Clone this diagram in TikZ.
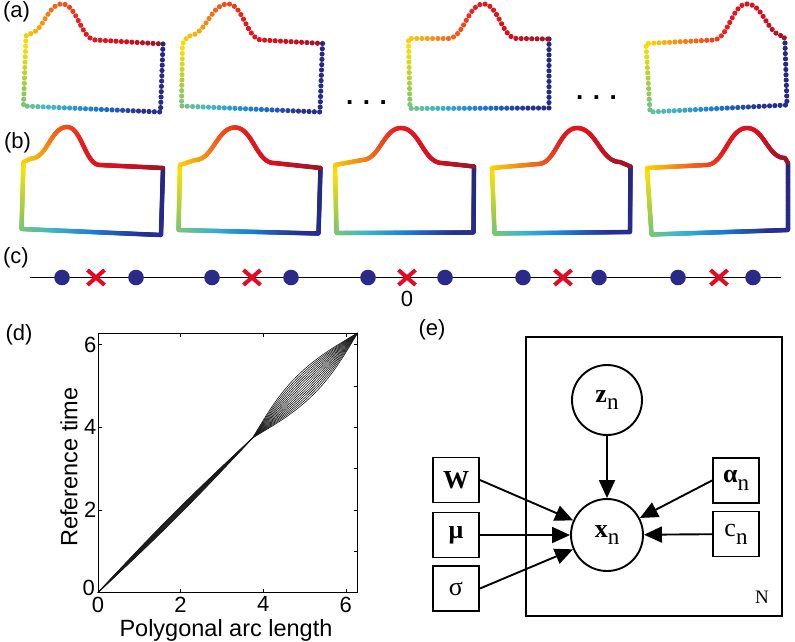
\documentclass[tikz,border=0pt]{standalone}
\usepackage{fontspec}
\setmainfont{Liberation Sans}
\newfontfamily\gmfont{Liberation Serif}
\usetikzlibrary{calc,decorations.markings,arrows.meta}

% colour stops along an outline (start = right top corner)
\definecolor{jet0}{rgb}{0.15,0.16,0.50}
\definecolor{jet1}{rgb}{0.15,0.16,0.53}
\definecolor{jet2}{rgb}{0.15,0.19,0.58}
\definecolor{jet3}{rgb}{0.10,0.48,0.85}
\definecolor{jet4}{rgb}{0.25,0.72,0.78}
\definecolor{jet5}{rgb}{0.60,0.80,0.30}
\definecolor{jet6}{rgb}{0.98,0.88,0.02}
\definecolor{jet7}{rgb}{0.95,0.45,0.10}
\definecolor{jet8}{rgb}{0.90,0.10,0.12}
\definecolor{jet9}{rgb}{0.85,0.06,0.12}
\definecolor{jet10}{rgb}{0.62,0.08,0.15}
\definecolor{navy}{rgb}{0.16,0.17,0.53}
\definecolor{xred}{rgb}{0.89,0.04,0.15}

\newcommand\jetpick{%
  \pgfmathsetmacro\jt{10*\pgfkeysvalueof{/pgf/decoration/mark info/distance from start}/\pgfdecoratedpathlength}%
  \pgfmathtruncatemacro\jk{min(\jt,9.99)}%
  \pgfmathsetmacro\jp{max(0,min(100,100*(\jt-\jk)))}%
  \pgfmathtruncatemacro\jn{\jk+1}%
  \colorlet{jetcol}{jet\jn!\jp!jet\jk}}

\newcommand\setshape[7]{%
  \coordinate (RT) at (#1); \coordinate (RB) at (#2); \coordinate (LB) at (#3);
  \coordinate (LT) at (#4); \coordinate (B1) at (#5); \coordinate (P) at (#6);
  \coordinate (B2) at (#7);}
\def\shapepath{(RT) -- (RB) -- (LB) -- (LT) -- (B1)
  .. controls ($(B1)!.45!(P|-B1)$) and ($(P)!.45!(B1|-P)$) .. (P)
  .. controls ($(P)!.45!(B2|-P)$) and ($(B2)!.45!(P|-B2)$) .. (B2) -- (RT)}

\newcommand\subn[1]{#1\raisebox{-0.3em}{\fontsize{23}{23}\selectfont n}}

\begin{document}
\begin{tikzpicture}[x=1pt, y=-1pt,
  dotline/.style={postaction={decorate}, decoration={markings,
    mark=between positions 0 and 1 step 5.3pt with {\jetpick\fill[jetcol] (0,0) circle (2.6pt);}}},
  colline/.style={postaction={decorate}, decoration={markings,
    mark=between positions 0 and 1 step 0.9pt with {\jetpick\fill[jetcol] (0,0) circle (2.3pt);}}},
  panel/.style={font=\fontsize{22}{22}\selectfont, inner sep=0pt},
  obs/.style={draw, line width=1.9pt, minimum width=46pt, minimum height=45pt,
    inner sep=0pt, font=\gmfont\fontsize{26}{26}\selectfont},
  lat/.style={draw, circle, line width=1.9pt, minimum size=70pt, inner sep=0pt,
    font=\gmfont\fontsize{26}{26}\selectfont},
  dep/.style={line width=1.9pt, -{Triangle[length=18pt,width=16pt]}}]
  \useasboundingbox (0,0) rectangle (795,641);

  % (a) sampled outlines
  \setshape{163,44}{160.5,112}{23.5,106}{26,36}{28,34}{62,4}{96,40}
  \path[dotline] \shapepath;
  \setshape{322.5,43.5}{320,112}{181.5,106}{182.5,44}{188,36}{228,4}{262,40}
  \path[dotline] \shapepath;
  \setshape{549,39}{549,108}{410,108.5}{408.5,38.5}{448,38.5}{483.5,4}{517,38.5}
  \path[dotline] \shapepath;
  \setshape{785,43}{787,105}{650,112}{646,43.5}{713,40}{747,4}{784,36}
  \path[dotline] \shapepath;
  \node[inner sep=0pt, font=\bfseries\fontsize{26}{26}\selectfont] at (366.5,102.7) {. . .};
  \node[inner sep=0pt, font=\bfseries\fontsize{26}{26}\selectfont] at (596.5,97.7) {. . .};

  % (b) continuous outlines
  \setshape{163,168}{161,235}{21.5,229}{23.5,162}{31,158.5}{67,127}{100,165}
  \path[colline] \shapepath;
  \setshape{320.5,168}{318.5,233.5}{178.5,230}{180,165}{195,160}{235,127.5}{274,163}
  \path[colline] \shapepath;
  \setshape{474,166.5}{473.5,232.5}{336.5,233}{335,165}{362,160}{401,128}{442,163}
  \path[colline] \shapepath;
  \setshape{630.5,166.5}{630,232}{494.5,233.5}{492,168}{538,164}{577,128}{620,162}
  \path[colline] \shapepath;
  \setshape{788,163}{788,230}{651.5,234.5}{647,168}{706,165}{747,128}{785,158}
  \path[colline] \shapepath;

  % (c) axis with points
  \draw[line width=1.2pt] (30,277.5) -- (781,277.5);
  \foreach \d in {62,136,212,291,368,445,523,599,678,753}
    \fill[navy] (\d,277.5) circle (7.8pt);
  \foreach \c in {96,252,407,563,719}
    \draw[xred, line width=4pt] (\c-8.5,270) -- (\c+8.5,285) (\c-8.5,285) -- (\c+8.5,270);
  \node[panel] at (407,299) {0};

  % (d) warping curves
  \begin{scope}[shift={(98,592.5)}, x=41.3pt, y=41.3pt,
    declare function={lens(\t,\a)=\a*((\t<3.75)*0.2*sin(180*\t/3.75)+(\t>=3.75)*sin(180*(\t-3.75)/2.5332));}]
    \foreach \a in {-0.21,-0.18,...,0.22}
      \draw[line width=0.6pt, black!90] plot[domain=0:6.2832, samples=120, smooth, variable=\t]
        ({\t-lens(\t,\a)}, {\t+lens(\t,\a)});
    \draw[line width=0.9pt] (0,0) rectangle (6.2832,6.2832);
    \foreach \v in {0,2,4,6} {
      \draw[line width=0.6pt] (\v,0) -- ++(0,4pt);
      \draw[line width=0.6pt] (\v,6.2832) -- ++(0,-4pt);
      \draw[line width=0.6pt] (0,\v) -- ++(4pt,0);
      \node[panel, anchor=north] at ($(\v,0)+(0,-4pt)$) {\v};
    }
    \foreach \v in {2,4,6}
      \node[panel, anchor=east] at ($(0,\v)+(-1.5pt,0)$) {\v};
    \node[panel, anchor=east] at ($(0,0)+(-3pt,4.5pt)$) {0};
    \foreach \v in {1,...,6}
      \draw[line width=0.6pt] (6.2832,\v) -- ++(-4pt,0);
  \end{scope}
  \node[font=\fontsize{23.5}{23.5}\selectfont] at (226,630) {Polygonal arc length};
  \node[font=\fontsize{23.5}{23.5}\selectfont, rotate=90] at (69,467) {Reference time};

  % (e) graphical model
  \draw[line width=2.1pt] (526,337) rectangle (782,616);
  \node[font=\gmfont\fontsize{19}{19}\selectfont] at (762,597) {N};
  \node[lat] (z) at (607,400) {\subn{\textbf{z}}};
  \node[lat, minimum size=72pt] (x) at (607,535) {\subn{\textbf{x}}};
  \node[obs] (W) at (456,480) {\textbf{W}};
  \node[obs] (mu) at (456,535) {\textbf{μ}};
  \node[obs] (sigma) at (456,588.5) {σ};
  \node[obs] (alpha) at (736,480.5) {\subn{\textbf{α}}};
  \node[obs] (c) at (736,534) {\subn{c}};
  \draw[dep] (z) -- (x);
  \draw[dep] (W.east) -- (x);
  \draw[dep] (mu) -- (x);
  \draw[dep] (sigma.east) -- (x);
  \draw[dep] (alpha.west) -- (x);
  \draw[dep] (c) -- (x);

  % panel letters
  \node[panel] at (16.5,12) {(a)};
  \node[panel] at (17.5,143) {(b)};
  \node[panel] at (16,257.5) {(c)};
  \node[panel] at (19,335) {(d)};
  \node[panel] at (432,330) {(e)};
\end{tikzpicture}
\end{document}
